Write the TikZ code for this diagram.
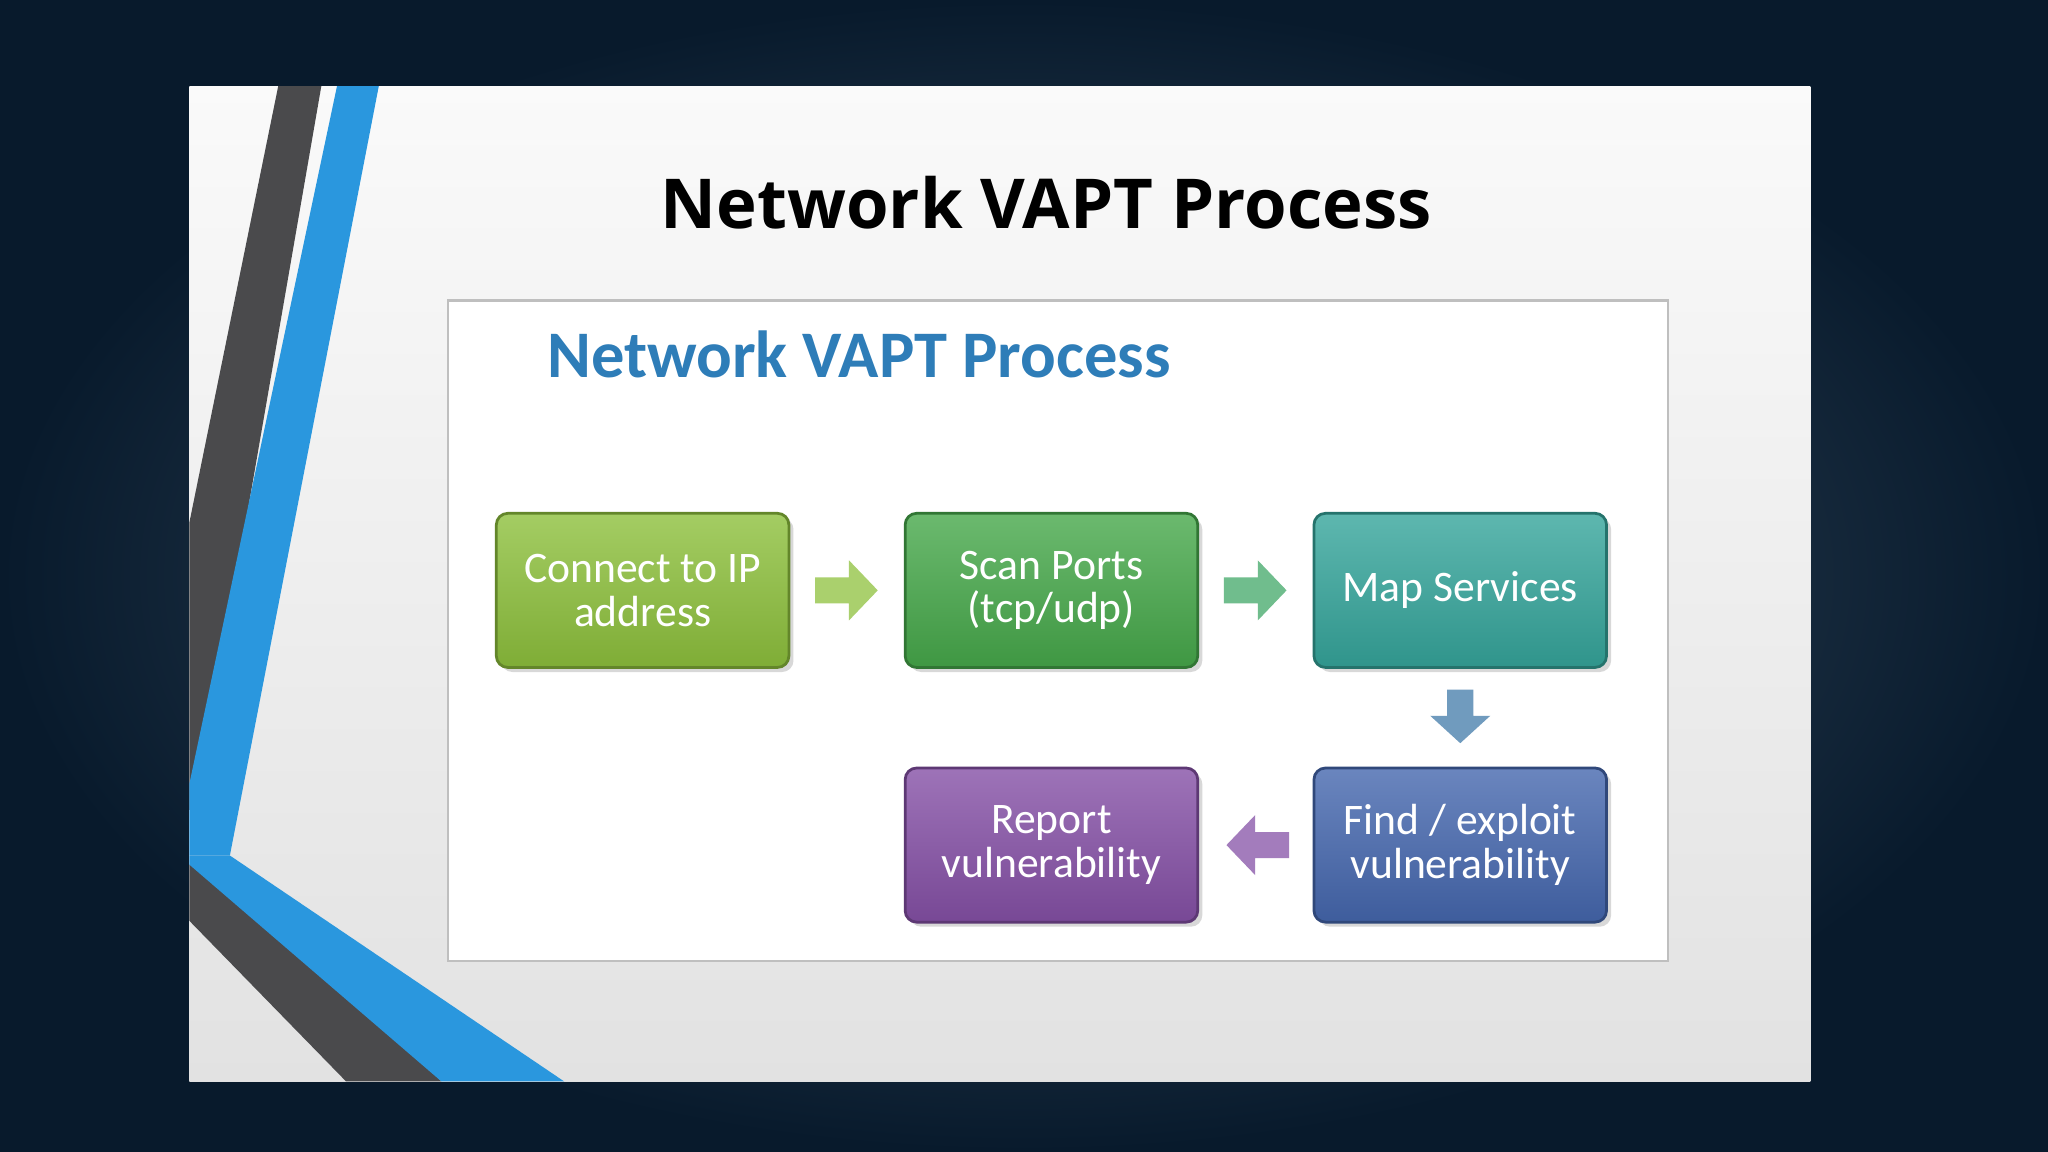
\documentclass[tikz,border=0pt]{standalone}
\usepackage{fontspec}
\setmainfont{Carlito}
\newfontfamily\titlefont{Open Sans}
\usetikzlibrary{shadows}
\definecolor{navy}{HTML}{0F2B45}
\definecolor{navyd}{HTML}{081A2C}
\definecolor{slide}{HTML}{EDEDED}
\definecolor{sgray}{HTML}{4A4A4C}
\definecolor{sblue}{HTML}{2A97DE}
\definecolor{ititle}{HTML}{2E7DB8}
\definecolor{cA}{HTML}{8DC03C}
\definecolor{cB}{HTML}{46A84A}
\definecolor{cC}{HTML}{35A59B}
\definecolor{cD}{HTML}{8550A6}
\definecolor{cE}{HTML}{4567AE}
\begin{document}
\begin{tikzpicture}[x=0.02cm,y=-0.02cm,
 box/.style={draw=#1!70!black,line width=1.2pt,rounded corners=5pt,minimum width=224*0.02cm,minimum height=118*0.02cm,
   top color=#1!80!white,bottom color=#1!90!black,text=white,align=center,font=\fontsize{19}{19}\selectfont,
   drop shadow={opacity=0.3,shadow xshift=2pt,shadow yshift=-2pt}}]
\fill[navy] (0,0) rectangle (1568,882);
\shade[inner color=navy!80!white,outer color=navyd] (0,0) rectangle (1568,882);
\shade[top color=white!96!gray,bottom color=slide!90!gray] (145,66) rectangle (1386,828);
% stripes
\fill[sgray] (213,66)--(246,66)--(150,620)--(145,620)--(145,400)--cycle;
\fill[sblue] (258,66)--(290,66)--(176,655)--(145,655)--(145,600)--cycle;
\fill[sgray] (145,662)--(175,662)--(338,828)--(265,828)--(145,705)--cycle;
\fill[sblue] (145,655)--(176,655)--(432,828)--(338,828)--(145,662)--cycle;
\node[font=\titlefont\bfseries\fontsize{30}{30}\selectfont] (t) at (801,155) {Network VAPT Process};
\node[draw=gray!50,fill=white,line width=1pt,minimum width=934*0.02cm,minimum height=506*0.02cm] (panel) at (810,483) {};
\node[anchor=west,text=ititle,font=\bfseries\fontsize{29}{29}\selectfont] (it) at (413,271) {Network VAPT Process};
\node[box=cA] (a) at (492,452) {Connect to IP\\address};
\node[box=cB] (b) at (805,452) {Scan Ports\\(tcp/udp)};
\node[box=cC] (c) at (1118,452) {Map Services};
\node[box=cE] (e) at (1118,647) {Find / exploit\\vulnerability};
\node[box=cD] (d) at (805,647) {Report\\vulnerability};
\coordinate (a1) at (648,452);
\coordinate (a2) at (961,452);
\coordinate (a3) at (1118,548);
\coordinate (a4) at (963,647);
\fill[cA!75!white] ([shift={(-24,-10)}]a1) -- ++(26,0) -- ++(0,-13) -- ++(22,23) -- ++(-22,23) -- ++(0,-13) -- ++(-26,0) -- cycle;
\fill[cB!65!cC!75!white] ([shift={(-24,-10)}]a2) -- ++(26,0) -- ++(0,-13) -- ++(22,23) -- ++(-22,23) -- ++(0,-13) -- ++(-26,0) -- cycle;
\fill[cE!70!cC!75!white] ([shift={(-10,-20)}]a3) -- ++(0,20) -- ++(-13,0) -- ++(23,21) -- ++(23,-21) -- ++(-13,0) -- ++(0,-20) -- cycle;
\fill[cD!75!white] ([shift={(24,-10)}]a4) -- ++(-26,0) -- ++(0,-13) -- ++(-22,23) -- ++(22,23) -- ++(0,-13) -- ++(26,0) -- cycle;
\end{tikzpicture}
\end{document}
